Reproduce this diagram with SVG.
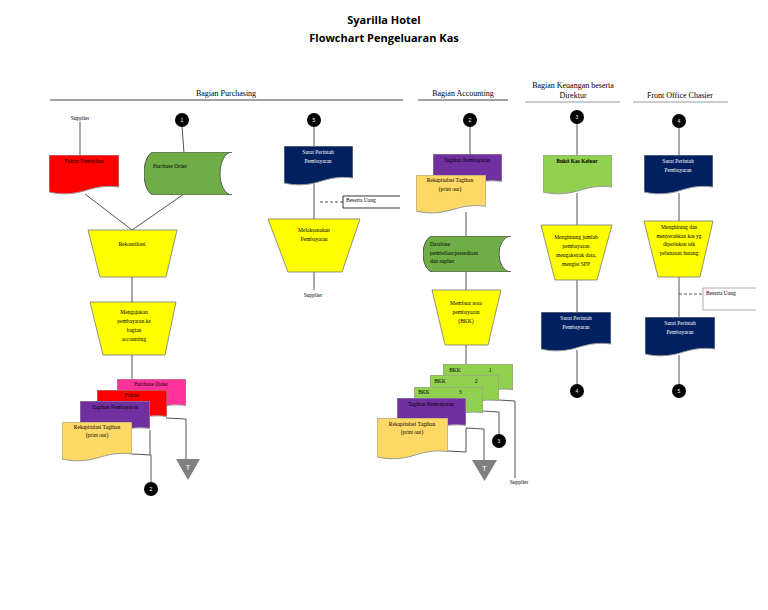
<svg xmlns="http://www.w3.org/2000/svg" xmlns:xlink="http://www.w3.org/1999/xlink" width="768" height="610" viewBox="0 0 768 610">
<style>
.t{font-family:"Liberation Serif",serif;font-size:5.5px;fill:#000;text-anchor:middle}
.w{fill:#fff}
.l{text-anchor:start}
.h{font-family:"Liberation Serif",serif;font-size:8px;text-anchor:middle}
.ti{font-family:"Open Sans","Liberation Sans",sans-serif;font-size:11px;font-weight:bold;text-anchor:middle}
.c line,.c polyline{stroke:#555;stroke-width:1;fill:none}
.d{stroke:#000;stroke-dasharray:3,2;fill:none}
.ln{stroke:#444;stroke-width:1.2}
.cir{fill:#000}
.ct{font-family:"Liberation Sans",sans-serif;font-size:5px;fill:#fff;text-anchor:middle}
.sh{stroke:#777;stroke-width:0.8}
</style>
<defs>
<symbol id="doc" viewBox="0 0 70 40" preserveAspectRatio="none"><path d="M0,0 H70 V32 C55,30 45,33 35,36 C25,39 12,40 0,37 Z" vector-effect="non-scaling-stroke"/></symbol>
<symbol id="sto" viewBox="0 0 88 43" preserveAspectRatio="none"><path d="M10,0 H88 A12,21.5 0 0 0 88,43 H10 A10,21.5 0 0 1 10,0 Z" vector-effect="non-scaling-stroke"/></symbol>
</defs>
<rect width="768" height="610" fill="#fff"/>
<text class="ti" x="384" y="24">Syarilla Hotel</text>
<text class="ti" x="384" y="42">Flowchart Pengeluaran Kas</text>
<g id="headers">
<text class="h" x="226" y="96">Bagian Purchasing</text><line class="ln" x1="50" y1="100" x2="403" y2="100"/>
<text class="h" x="463" y="96">Bagian Accounting</text><line class="ln" x1="418" y1="100" x2="508" y2="100"/>
<text class="h" x="573" y="88">Bagian Keuangan beserta</text><text class="h" x="573" y="98">Direktur</text><line stroke="#999" x1="525" y1="102" x2="620" y2="102"/>
<text class="h" x="680" y="98">Front Office Chasier</text><line stroke="#999" x1="633" y1="102" x2="728" y2="102"/>
</g>
<g class="c" id="connectors">
<line x1="80" y1="122" x2="80" y2="156"/><line x1="182" y1="126" x2="184" y2="153"/>
<line x1="85" y1="194" x2="132" y2="230"/><line x1="184" y1="194" x2="132" y2="230"/>
<line x1="132" y1="277" x2="132" y2="302"/><line x1="132" y1="355" x2="132" y2="380"/>
<polyline points="166,418 186,419 186,460"/><polyline points="132,454 151,455 151,483"/><line x1="150" y1="430" x2="150" y2="455"/>
<line x1="314" y1="126" x2="314" y2="147"/><line x1="314" y1="184" x2="314" y2="219"/><line x1="314" y1="272" x2="314" y2="290"/>
<line class="d" x1="320" y1="202" x2="343" y2="202"/>
<line x1="470" y1="126" x2="470" y2="155"/><line x1="466" y1="212" x2="466" y2="236"/><line x1="466" y1="272" x2="466" y2="290"/><line x1="466" y1="345" x2="466" y2="364"/>
<polyline points="499,400 515,401 515,478"/><polyline points="483,411 499,412 499,435"/><polyline points="466,428 484,429 484,460"/><polyline points="448,451 466,452 466,428"/>
<line x1="577" y1="123" x2="577" y2="156"/><line x1="577" y1="193" x2="577" y2="225"/><line x1="577" y1="280" x2="577" y2="312"/><line x1="577" y1="350" x2="577" y2="385"/>
<line x1="679" y1="127" x2="679" y2="156"/><line x1="679" y1="193" x2="679" y2="221"/><line x1="679" y1="277" x2="679" y2="318"/><line x1="679" y1="355" x2="679" y2="385"/>
<line class="d" x1="679" y1="294" x2="703" y2="294"/>
</g>
<g id="n-supplier1"><text class="t" x="80" y="120">Supplier</text></g>
<g id="n-c1"><circle class="cir" cx="182" cy="120" r="7"/><text class="ct" x="182" y="122">1</text></g>
<g id="n-faktur"><use href="#doc" x="49" y="155" width="70" height="40" fill="#ff0000" stroke="#999"/><text class="t" x="84" y="163">Faktur Pembelian</text></g>
<g id="n-po"><use href="#sto" x="144" y="152" width="88" height="43" fill="#70ad47" stroke="#555"/><text class="t" x="170" y="168">Purchase Order</text></g>
<g id="n-rek"><polygon points="88,230 177,230 166,277 100,277" fill="#ffff00" class="sh"/><text class="t" x="132" y="246">Rekonsiliasi</text></g>
<g id="n-aju"><polygon points="90,302 176,302 165,355 103,355" fill="#ffff00" class="sh"/><text class="t" x="134" y="314">Mengajukan</text><text class="t" x="134" y="323">pembayaran ke</text><text class="t" x="134" y="332">bagian</text><text class="t" x="134" y="341">accounting</text></g>
<g id="n-stack1">
<use href="#doc" x="117" y="379" width="69" height="33" fill="#ff3399" stroke="#999"/><text class="t" x="151" y="386">Purchase Order</text>
<use href="#doc" x="97" y="390" width="70" height="33" fill="#ff0000" stroke="#999"/><text class="t" x="132" y="397">Faktur</text>
<use href="#doc" x="80" y="401" width="70" height="34" fill="#7030a0" stroke="#999"/><text class="t" x="115" y="409">Tagihan Pembayaran</text>
<use href="#doc" x="62" y="422" width="70" height="40" fill="#ffd966" stroke="#999"/><text class="t" x="97" y="429">Rekapitulasi Tagihan</text><text class="t" x="97" y="437">(print out)</text>
</g>
<g id="n-t1"><polygon points="176,459 200,459 188,480" fill="#7f7f7f"/><text x="188" y="470" font-family="Liberation Sans,sans-serif" font-size="8" fill="#fff" text-anchor="middle">T</text></g>
<g id="n-c2a"><circle class="cir" cx="151" cy="489" r="7"/><text class="ct" x="151" y="491">2</text></g>
<g id="n-c5a"><circle class="cir" cx="314" cy="120" r="7"/><text class="ct" x="314" y="122">5</text></g>
<g id="n-spp1"><use href="#doc" x="284" y="146" width="69" height="40" fill="#002060" stroke="#999"/><text class="t w" x="318" y="154">Surat Perintah</text><text class="t w" x="318" y="163">Pembayaran</text></g>
<g id="n-uang1"><polyline points="400,196 343,196 343,208 400,208" fill="#fff" stroke="#000" stroke-width="0.8"/><text class="t l" x="346" y="202">Beserta Uang</text></g>
<g id="n-laks"><polygon points="268,219 360,219 342,272 288,272" fill="#ffff00" class="sh"/><text class="t" x="314" y="232">Melaksanakan</text><text class="t" x="314" y="241">Pembayaran</text></g>
<g id="n-supplier2"><text class="t" x="313" y="297">Supplier</text></g>
<g id="n-c2b"><circle class="cir" cx="470" cy="120" r="7"/><text class="ct" x="470" y="122">2</text></g>
<g id="n-tag2"><use href="#doc" x="433" y="154" width="69" height="34" fill="#7030a0" stroke="#999"/><text class="t" x="467" y="162">Tagihan Pembayaran</text></g>
<g id="n-rekap2"><use href="#doc" x="416" y="175" width="70" height="39" fill="#ffd966" stroke="#999"/><text class="t" x="450" y="182">Rekapitulasi Tagihan</text><text class="t" x="450" y="191">(print out)</text></g>
<g id="n-db"><use href="#sto" x="423" y="236" width="88" height="36" fill="#70ad47" stroke="#555"/><text class="t l" x="430" y="246">Database</text><text class="t l" x="430" y="255">pembelian/persediaan</text><text class="t l" x="430" y="263">dan suplier</text></g>
<g id="n-nota"><polygon points="432,290 501,290 488,345 445,345" fill="#ffff00" class="sh"/><text class="t" x="466" y="305">Membuat nota</text><text class="t" x="466" y="314">pembayaran</text><text class="t" x="466" y="323">(BKK)</text></g>
<g id="n-stack2">
<use href="#doc" x="443" y="364" width="70" height="32" fill="#92d050" stroke="#999"/><text class="t" x="455" y="372">BKK</text><text class="t" x="490" y="372">1</text>
<use href="#doc" x="430" y="375" width="69" height="32" fill="#92d050" stroke="#999"/><text class="t" x="440" y="383">BKK</text><text class="t" x="476" y="383">2</text>
<use href="#doc" x="414" y="387" width="69" height="32" fill="#92d050" stroke="#999"/><text class="t" x="424" y="394">BKK</text><text class="t" x="460" y="394">3</text>
<use href="#doc" x="397" y="398" width="69" height="34" fill="#7030a0" stroke="#999"/><text class="t" x="431" y="406">Tagihan Pembayaran</text>
<use href="#doc" x="377" y="418" width="71" height="42" fill="#ffd966" stroke="#999"/><text class="t" x="412" y="426">Rekapitulasi Tagihan</text><text class="t" x="412" y="434">(print out)</text>
</g>
<g id="n-c3a"><circle class="cir" cx="499" cy="441" r="7"/><text class="ct" x="499" y="443">3</text></g>
<g id="n-t2"><polygon points="472,460 497,460 484.5,481" fill="#7f7f7f"/><text x="484.5" y="471" font-family="Liberation Sans,sans-serif" font-size="8" fill="#fff" text-anchor="middle">T</text></g>
<g id="n-supplier3"><text class="t" x="519" y="484">Supplier</text></g>
<g id="n-c3b"><circle class="cir" cx="577" cy="117" r="7"/><text class="ct" x="577" y="119">3</text></g>
<g id="n-bkk"><use href="#doc" x="543" y="155" width="69" height="40" fill="#92d050" stroke="#999"/><text class="t" x="577" y="163" font-weight="bold">Bukti Kas Keluar</text></g>
<g id="n-hitung1"><polygon points="541,225 612,225 597,280 555,280" fill="#ffff00" class="sh"/><text class="t" x="576" y="239">Menghitung jumlah</text><text class="t" x="576" y="248">pembayaran</text><text class="t" x="576" y="257">mengakstrak data,</text><text class="t" x="576" y="266">mengisi SPP</text></g>
<g id="n-spp2"><use href="#doc" x="541" y="312" width="70" height="40" fill="#002060" stroke="#999"/><text class="t w" x="576" y="320">Surat Perintah</text><text class="t w" x="576" y="329">Pembayaran</text></g>
<g id="n-c4a"><circle class="cir" cx="577" cy="391" r="7"/><text class="ct" x="577" y="393">4</text></g>
<g id="n-c4b"><circle class="cir" cx="679" cy="121" r="7"/><text class="ct" x="679" y="123">4</text></g>
<g id="n-spp3"><use href="#doc" x="644" y="155" width="69" height="40" fill="#002060" stroke="#999"/><text class="t w" x="678" y="163">Surat Perintah</text><text class="t w" x="678" y="172">Pembayaran</text></g>
<g id="n-hitung2"><polygon points="644,221 713,221 700,277 658,277" fill="#ffff00" class="sh"/><text class="t" x="679" y="229">Menghitung dan</text><text class="t" x="679" y="238">menyerahkan kas yg</text><text class="t" x="679" y="246">diperlukan utk</text><text class="t" x="679" y="255">pelunasan hutang</text></g>
<g id="n-uang2"><polyline points="756,288 703,288 703,310 756,310" fill="#fff" stroke="#999" stroke-width="0.8"/><text class="t l" x="706" y="295">Beserta Uang</text></g>
<g id="n-spp4"><use href="#doc" x="645" y="317" width="70" height="40" fill="#002060" stroke="#999"/><text class="t w" x="680" y="325">Surat Perintah</text><text class="t w" x="680" y="334">Pembayaran</text></g>
<g id="n-c5b"><circle class="cir" cx="679" cy="391" r="7"/><text class="ct" x="679" y="393">5</text></g>
</svg>
